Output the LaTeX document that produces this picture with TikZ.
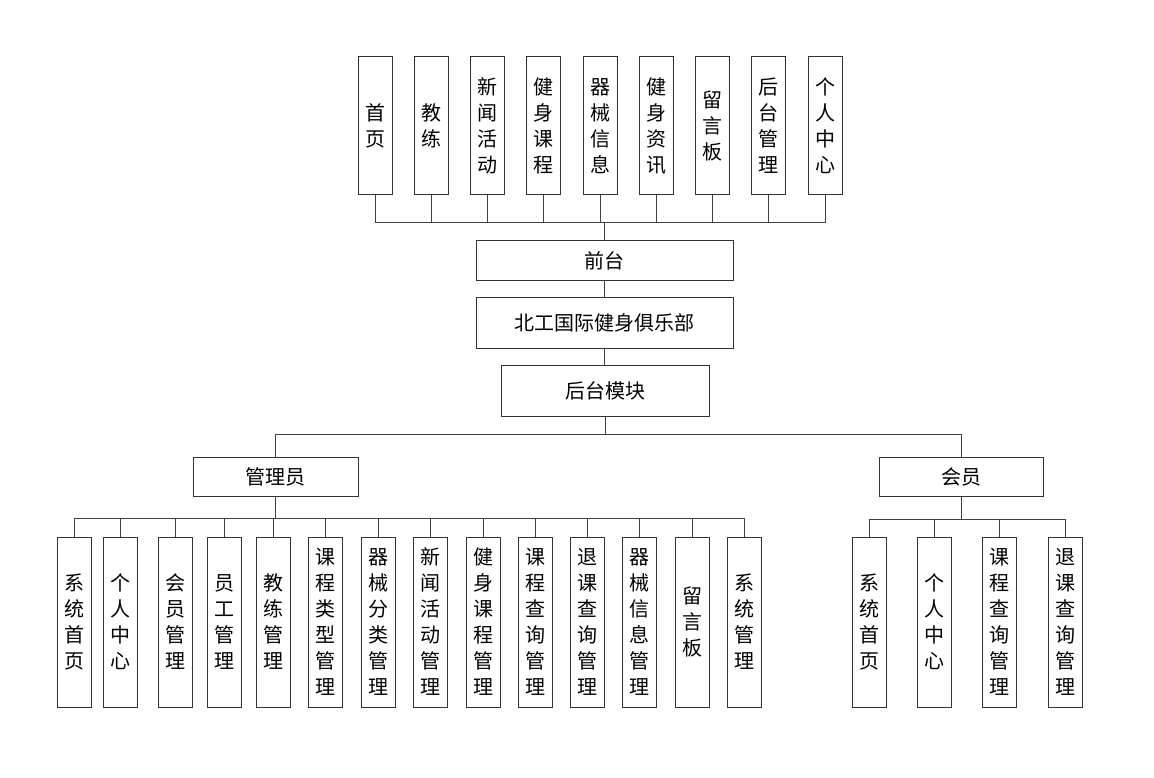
\documentclass[tikz,border=0pt]{standalone}
\usepackage{fontspec}
\newfontfamily\cjk{Noto Sans CJK SC}
\begin{document}
\begin{tikzpicture}[x=1pt,y=-1pt,
  every node/.style={font=\cjk\fontsize{20}{26}\selectfont, inner sep=0pt, draw=black!80, line width=1pt, align=center},
  hbox/.style={minimum height=#1},
  tbox/.style={minimum width=34pt, minimum height=138pt},
  bbox/.style={minimum width=34pt, minimum height=170pt},
  conn/.style={draw=black!75, line width=1pt}]
\useasboundingbox (0,0) rectangle (1154,778);
% top row
\node[tbox] (t1) at (375,126) {首\\页};
\node[tbox] (t2) at (431.25,126) {教\\练};
\node[tbox] (t3) at (487.5,126) {新\\闻\\活\\动};
\node[tbox] (t4) at (543.75,126) {健\\身\\课\\程};
\node[tbox] (t5) at (600,126) {器\\械\\信\\息};
\node[tbox] (t6) at (656.25,126) {健\\身\\资\\讯};
\node[tbox] (t7) at (712.5,126) {留\\言\\板};
\node[tbox] (t8) at (768.75,126) {后\\台\\管\\理};
\node[tbox] (t9) at (825,126) {个\\人\\中\\心};
% middle
\node[minimum width=257pt, minimum height=39pt] (qt) at (604.5,260.5) {前台};
\node[minimum width=257pt, minimum height=51pt] (bg) at (604.5,322.5) {北工国际健身俱乐部};
\node[minimum width=208pt, minimum height=51pt] (hm) at (605,390.5) {后台模块};
\node[minimum width=165pt, minimum height=39pt] (gly) at (275.5,476.5) {管理员};
\node[minimum width=164pt, minimum height=39pt] (hy) at (961,476.5) {会员};
% admin children
\node[bbox] (a1) at (74,622) {系\\统\\首\\页};
\node[bbox] (a2) at (120.5,622) {个\\人\\中\\心};
\node[bbox] (a3) at (175,622) {会\\员\\管\\理};
\node[bbox] (a4) at (224,622) {员\\工\\管\\理};
\node[bbox] (a5) at (273,622) {教\\练\\管\\理};
\node[bbox] (a6) at (325,622) {课\\程\\类\\型\\管\\理};
\node[bbox] (a7) at (378,622) {器\\械\\分\\类\\管\\理};
\node[bbox] (a8) at (430,622) {新\\闻\\活\\动\\管\\理};
\node[bbox] (a9) at (483,622) {健\\身\\课\\程\\管\\理};
\node[bbox] (a10) at (535,622) {课\\程\\查\\询\\管\\理};
\node[bbox] (a11) at (587,622) {退\\课\\查\\询\\管\\理};
\node[bbox] (a12) at (639.5,622) {器\\械\\信\\息\\管\\理};
\node[bbox] (a13) at (692,622) {留\\言\\板};
\node[bbox] (a14) at (744.5,622) {系\\统\\管\\理};
% member children
\node[bbox] (m1) at (869,622) {系\\统\\首\\页};
\node[bbox] (m2) at (934.5,622) {个\\人\\中\\心};
\node[bbox] (m3) at (999,622) {课\\程\\查\\询\\管\\理};
\node[bbox] (m4) at (1065,622) {退\\课\\查\\询\\管\\理};
% coordinates
\coordinate (topbus) at (604.5,223);
\coordinate (mbar) at (604.5,434);
\coordinate (abus) at (275.5,518);
\coordinate (mbus) at (961,519);
% connectors
\foreach \i in {1,...,9} \draw[conn] (t\i.south) |- (topbus);
\draw[conn] (topbus) -- (qt.north);
\draw[conn] (qt.south) -- (bg.north);
\draw[conn] (bg.south) -- (bg.south |- hm.north);
\draw[conn] (hm.south) -- (hm.south |- mbar) -- (mbar);
\draw[conn] (gly.north) |- (mbar);
\draw[conn] (hy.north) |- (mbar);
\draw[conn] (gly.south) -- (abus);
\foreach \i in {1,...,14} \draw[conn] (a\i.north) |- (abus);
\draw[conn] (hy.south) -- (mbus);
\foreach \i in {1,...,4} \draw[conn] (m\i.north) |- (mbus);
\end{tikzpicture}
\end{document}
